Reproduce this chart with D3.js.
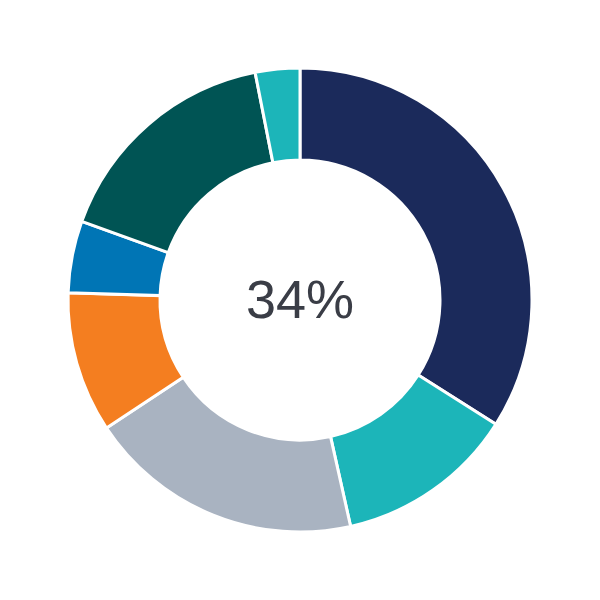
<!DOCTYPE html>
<html>
<head>
<meta charset="utf-8">
<script src="https://cdn.jsdelivr.net/npm/d3@7"></script>
<style>
html,body{margin:0;padding:0;background:#fff;}
svg{display:block;}
</style>
</head>
<body>
<svg id="chart" width="600" height="600"></svg>
<script>
const categories = ["A","B","C","D","E","F","G"];
const values = [34, 12.5, 19.2, 9.8, 5, 16.4, 3.1];
const colors = ["#1b2a5b","#1cb5b9","#a9b3c1","#f47e20","#0075b5","#005454","#1cb5b9"];
const centerLabel = "34%";

const svg = d3.select("#chart");
const g = svg.append("g").attr("transform","translate(300,300)");
const pie = d3.pie().sort(null).value(d => d.v);
const arc = d3.arc().innerRadius(140).outerRadius(232);
const data = categories.map((c,i)=>({c, v: values[i], col: colors[i]}));
g.selectAll("path").data(pie(data)).join("path")
  .attr("d", arc)
  .attr("fill", d => d.data.col)
  .attr("stroke", "#fff")
  .attr("stroke-width", 3)
  .attr("stroke-linejoin","miter");
g.append("text")
  .attr("text-anchor","middle")
  .attr("y", 18)
  .attr("font-family","Liberation Sans, Arial, sans-serif")
  .attr("font-size", 54)
  .attr("fill","#3a3d46")
  .text(centerLabel);
</script>
</body>
</html>
